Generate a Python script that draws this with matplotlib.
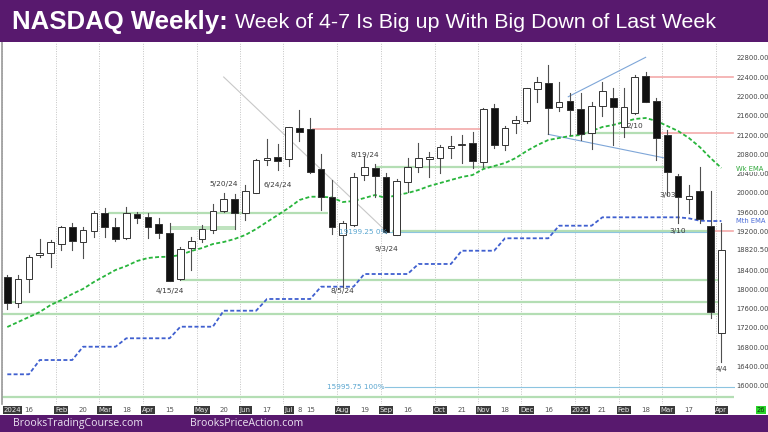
#!/usr/bin/env python3
# -*- coding: UTF-8 -*-
"""
    NASDAQ weekly candles with EMAs and support / resistance levels
"""

import matplotlib
matplotlib.use('Agg')
import matplotlib.pyplot as plt
import matplotlib.transforms as mtransforms
from matplotlib import font_manager
from matplotlib.patches import Rectangle

# ---- data (weekly bars, Jan 2024 .. week of 4/7/2025) ----
opens = [18273, 17721, 18219, 18717, 18758, 18945, 19298, 18987, 19221, 19588,
         19310, 19070, 19567, 19520, 19360, 19173, 18219, 18862, 19049, 19242,
         19642, 19878, 19588, 20015, 20693, 20762, 20714, 21351, 21330, 20501,
         19920, 19138, 19345, 20382, 20521, 20347, 19138, 20243, 20542, 20708,
         20729, 20949, 20998, 21040, 20658, 21766, 21005, 21455, 21502, 22166,
         22297, 21786, 21923, 21745, 21253, 21813, 21986, 21372, 21675, 22442,
         21917, 21212, 20362, 19885, 20050, 19325, 17099]
highs = [18310, 18308, 18717, 19049, 19034, 19325, 19381, 19298, 19636, 19692,
         19497, 19712, 19609, 19600, 19484, 19381, 18895, 19103, 19345, 19775,
         20015, 19982, 20175, 20710, 21123, 21019, 21385, 21730, 21558, 20818,
         20279, 19435, 20430, 20776, 20604, 20418, 20293, 20729, 21040, 20866,
         21005, 21191, 21212, 21280, 21766, 21855, 21399, 21606, 22195, 22421,
         22664, 22318, 22077, 22089, 21896, 22318, 22181, 22181, 22457, 22525,
         21986, 21316, 20397, 20175, 20554, 20050, 19393]
lows = [17600, 17651, 17962, 18690, 18480, 18827, 18827, 18655, 19090, 19090,
        19020, 19060, 19393, 19070, 19070, 18180, 18205, 18412, 18999, 19186,
        19621, 19262, 19449, 20000, 20590, 20486, 20569, 21094, 20418, 19656,
        19152, 18066, 19324, 20279, 19932, 19186, 19130, 20036, 20451, 20335,
        20430, 20729, 20625, 20534, 20554, 20936, 20901, 21247, 21455, 21890,
        21226, 21710, 21212, 21108, 20921, 21606, 21005, 21164, 21648, 21890,
        20693, 19968, 19381, 19588, 19381, 17410, 16510]
closes = [17721, 18225, 18688, 18771, 18987, 19298, 19014, 19242, 19588, 19310,
          19055, 19588, 19497, 19310, 19186, 18190, 18848, 19014, 19262, 19642,
          19878, 19588, 20050, 20693, 20730, 20673, 21372, 21280, 20451, 19932,
          19310, 19381, 20347, 20542, 20368, 19206, 20264, 20542, 20729, 20749,
          20957, 20990, 21019, 20673, 21745, 21005, 21363, 21523, 22181, 22305,
          21778, 21903, 21730, 21233, 21813, 22131, 21799, 21799, 22421, 21903,
          21144, 20438, 19932, 19953, 19464, 17535, 18820.5]

# weekly 20 EMA (green) and monthly EMA (blue steps)
wk_ema = [17230, 17334, 17437, 17541, 17686, 17790, 17914, 18020, 18163, 18288,
          18412, 18495, 18599, 18661, 18682, 18688, 18723, 18806, 18868, 18951,
          18993, 19055, 19138, 19262, 19408, 19553, 19698, 19864, 19932, 19932,
          19916, 19822, 19843, 19905, 19968, 19905, 19968, 20009, 20071, 20154,
          20216, 20279, 20341, 20382, 20507, 20569, 20631, 20735, 20880, 21004,
          21108, 21150, 21191, 21212, 21295, 21378, 21420, 21482, 21544, 21565,
          21503, 21399, 21295, 21150, 20963, 20735, 20528]
mth_ema = ([16249] * 3 + [16545] * 4 + [16821] * 4 + [16996] * 5 + [17236] * 4 +
           [17568] * 4 + [17811] * 5 + [18066] * 4 + [18329] * 5 + [18537] * 4 +
           [18812] * 4 + [19070] * 5 + [19331] * 4 + [19505] * 8 +
           [19484, 19435, 19428, 19428])

# x axis labels: (bar index, text, month label?)
x_labels = [(0, '2024', True), (2, '16', False), (5, 'Feb', True), (7, '20', False),
            (9, 'Mar', True), (11, '18', False), (13, 'Apr', True), (15, '15', False),
            (18, 'May', True), (20, '20', False), (22, 'Jun', True), (24, '17', False),
            (26, 'Jul', True), (27, '8', False), (28, '15', False), (31, 'Aug', True),
            (33, '19', False), (35, 'Sep', True), (37, '16', False), (40, 'Oct', True),
            (42, '21', False), (44, 'Nov', True), (46, '18', False), (48, 'Dec', True),
            (50, '16', False), (53, '2025', True), (55, '21', False), (57, 'Feb', True),
            (59, '18', False), (61, 'Mar', True), (63, '17', False), (66, 'Apr', True)]

price_ticks = [22800, 22400, 22000, 21600, 21200, 20800, 20400, 20000, 19600,
               19200, 18400, 18000, 17600, 17200, 16800, 16400, 16000]
last_price = 18820.50

# horizontal levels: (price, first bar, last bar)
green_levels = [(19585, 9.3, 29.6), (20542, 34.1, 61.0), (21260, 53.0, 59.9),
                (19221, 35.6, 64.7), (18205, 16.1, 65.7), (17750, 0.3, 65.7),
                (17493, -0.5, 65.7), (15772, -0.5, 67.2)]
green_band = (19242, 19331, 15.0, 21.0)
red_levels = [(21335, 28.3, 43.7), (22420, 59.1, 67.1), (21255, 60.3, 67.1),
              (19221, 65.2, 67.1)]
fib_levels = [(19199.25, '19199.25 0%', 35.1, 65.0),
              (15995.75, '15995.75 100%', 34.9, 67.2)]

# trend lines: ((bar, price), (bar, price))
diag_line = ((20.0, 22415), (34.9, 19242))
wedge_top = ((51.85, 22006), (59.0, 22823))
wedge_bottom = ((50.0, 21226), (60.9, 20729))

# bar annotations: (bar, price, text)
notes = [(20, 20190, '5/20/24'), (15, 17980, '4/15/24'), (25, 20185, '6/24/24'),
         (33, 20790, '8/19/24'), (35, 18840, '9/3/24'), (31, 17980, '8/5/24'),
         (58, 21400, '2/10'), (61, 19960, '3/03'), (62, 19215, '3/10'), (66, 16360, '4/4')]

month_starts = [0, 5, 9, 13, 18, 22, 26, 31, 35, 40, 44, 48, 53, 57, 61, 66]

# ---- style ----
PURPLE = '#58196e'
W, H = 768, 432

names = {f.name for f in font_manager.fontManager.ttflist}
narrow = 'Liberation Sans Narrow' if 'Liberation Sans Narrow' in names else None

fig = plt.figure(figsize=(W / 100, H / 100), dpi=100)
fig.patch.set_facecolor('white')

# header and footer bands
fig.patches.append(Rectangle((0, 1 - 42 / H), 1, 42 / H, transform=fig.transFigure,
                             facecolor=PURPLE, edgecolor='none', zorder=0))
fig.patches.append(Rectangle((0, 0), 1, 17 / H, transform=fig.transFigure,
                             facecolor=PURPLE, edgecolor='none', zorder=0))
fig.text(12 / W, 1 - 22 / H, 'NASDAQ Weekly:', color='white', fontsize=18.5,
         fontweight='bold', family='Liberation Sans', va='center')
if narrow:
    fig.text(235 / W, 1 - 23 / H, 'Week of 4-7 Is Big up With Big Down of Last Week',
             color='white', fontsize=18.5, family=narrow, va='center')
else:
    fig.text(235 / W, 1 - 23 / H, 'Week of 4-7 Is Big up With Big Down of Last Week',
             color='white', fontsize=15.4, family='Liberation Sans', va='center')
fig.text(13 / W, 8.5 / H, 'BrooksTradingCourse.com', color='#ece4f2', fontsize=7.6,
         family='Open Sans', va='center')
fig.text(190 / W, 8.5 / H, 'BrooksPriceAction.com', color='#ece4f2', fontsize=7.6,
         family='Open Sans', va='center')
fig.text(761 / W, 1 - 410 / H, '26', color='#0a3a0a', fontsize=4.8, ha='center', va='center',
         bbox=dict(boxstyle='square,pad=0.15', facecolor='#2ad62a', edgecolor='none'))

ax = fig.add_axes([2 / W, (H - 404) / H, 733 / W, 362 / H])
ax.set_xlim(-0.49, 67.26)
ax.set_ylim(15633, 23141)
ax.set_xticks([])
ax.set_yticks([])
for side in ['top', 'right', 'bottom']:
    ax.spines[side].set_visible(False)
ax.spines['left'].set_color('#9a9a9a')
ax.spines['left'].set_linewidth(1.2)

# monthly grid
for m in month_starts:
    ax.axvline(m - 0.5, color='#c4c4c4', lw=0.7, ls=(0, (1, 1.5)), zorder=0)

# levels
for p, a, b in green_levels:
    ax.plot([a, b], [p, p], color='#b4deb4', lw=1.6, zorder=1, solid_capstyle='butt')
ax.fill_between([green_band[2], green_band[3]], green_band[0], green_band[1],
                color='#bfe3bf', lw=0, zorder=1)
for p, a, b in red_levels:
    ax.plot([a, b], [p, p], color='#f3aaaa', lw=1.2, zorder=1)
for p, txt, a, b in fib_levels:
    ax.plot([a, b], [p, p], color='#8cc4e0', lw=0.8, zorder=1)
    ax.text(a, p, txt, color='#5aa6d0', fontsize=5.2, ha='right', va='center', zorder=7)

# trend lines
for (x0, y0), (x1, y1), col in [(diag_line[0], diag_line[1], '#c8c8c8'),
                                (wedge_top[0], wedge_top[1], '#7ea6d8'),
                                (wedge_bottom[0], wedge_bottom[1], '#7ea6d8')]:
    ax.plot([x0, x1], [y0, y1], color=col, lw=0.8, zorder=2)

# EMAs
idx = list(range(len(closes)))
ax.plot(idx, wk_ema, color='#28b53c', lw=1.3, ls=(0, (2.2, 1.3)), zorder=3)
ax.plot(idx, mth_ema, color='#3f5fcf', lw=1.3, ls=(0, (2.2, 1.3)), zorder=3)

# candles
for i, (o, h, l, c) in enumerate(zip(opens, highs, lows, closes)):
    ax.plot([i, i], [l, h], color='#505050', lw=0.8, zorder=4)
    lo, hi = min(o, c), max(o, c)
    if hi - lo < 25:
        hi = lo + 25
    face = 'white' if c >= o else '#111111'
    ax.add_patch(Rectangle((i - 0.31, lo), 0.62, hi - lo, facecolor=face,
                           edgecolor='#333333', lw=0.7, zorder=5))

for i, p, txt in notes:
    ax.text(i, p, txt, fontsize=5.3, color='#3a3a3a', ha='center', va='center', zorder=6)

# x labels
tr_x = mtransforms.blended_transform_factory(ax.transData, ax.transAxes)
for i, txt, boxed in x_labels:
    xpos, ha = (i, 'center') if i > 0 else (-0.36, 'left')
    if boxed:
        ax.text(xpos, -0.017, txt, transform=tr_x, fontsize=5.0, color='#e8e8e8',
                ha=ha, va='center', clip_on=False,
                bbox=dict(boxstyle='square,pad=0.12', facecolor='#3a3a3a', edgecolor='none'))
    else:
        ax.text(xpos, -0.017, txt, transform=tr_x, fontsize=5.0, color='#555555',
                ha=ha, va='center', clip_on=False)

# price labels on the right
tr_y = mtransforms.blended_transform_factory(ax.transAxes, ax.transData)
for p in price_ticks:
    ax.text(1.002, p, '{:.2f}'.format(p), transform=tr_y, fontsize=4.9, color='#444444',
            ha='left', va='center', clip_on=False)
ax.text(1.002, last_price, '{:.2f}'.format(last_price), transform=tr_y, fontsize=4.9,
        color='#444444', ha='left', va='center', clip_on=False)
ax.text(1.002, 20515, 'Wk EMA', transform=tr_y, fontsize=4.9, color='#2fa83a',
        ha='left', va='center', clip_on=False,
        bbox=dict(boxstyle='square,pad=0.05', facecolor='white', edgecolor='none'))
ax.text(1.002, 19434, 'Mth EMA', transform=tr_y, fontsize=4.9, color='#4a6bd8',
        ha='left', va='center', clip_on=False,
        bbox=dict(boxstyle='square,pad=0.05', facecolor='white', edgecolor='none'))

fig.savefig('out.png', dpi=100)
